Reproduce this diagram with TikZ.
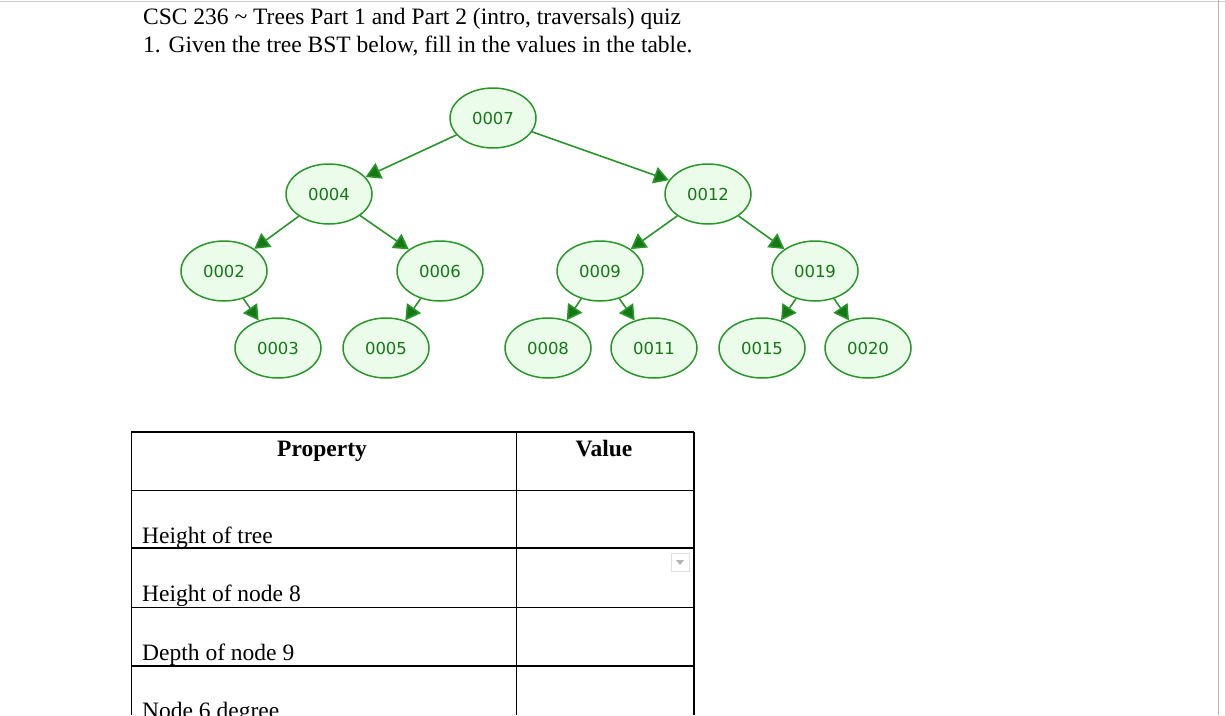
\documentclass[tikz,border=0pt]{standalone}
\usepackage{fontspec}
\setmainfont{Liberation Serif}
\newfontfamily\nodefont{DejaVu Sans}
\usetikzlibrary{shapes.geometric,arrows.meta}
\definecolor{tgreen}{RGB}{40,150,40}
\definecolor{tfill}{RGB}{235,252,235}
\definecolor{adark}{RGB}{20,120,20}
\begin{document}
\begin{tikzpicture}[x=1pt,y=-1pt,
  tn/.style={ellipse,draw=tgreen,fill=tfill,line width=1.5pt,minimum width=86pt,minimum height=60pt,inner sep=0pt,font=\nodefont\fontsize{16.5}{17}\selectfont,text=adark},
  ed/.style={draw=tgreen,line width=1.6pt,-{Triangle[length=15pt,width=17pt,fill=adark]}},
  tx/.style={font=\fontsize{23.5}{25}\selectfont,anchor=base west,inner sep=0pt},
  hd/.style={font=\bfseries\fontsize{23.5}{25}\selectfont,anchor=base,inner sep=0pt}]
\useasboundingbox (0,0) rectangle (1225,715);
\draw[gray!40] (0,1) -- (1225,1);
\draw[gray!60] (1218,0) -- (1218,715);
\node[tx] (t1) at (143,24) {CSC 236 \textasciitilde{} Trees Part 1 and Part 2 (intro, traversals) quiz};
\node[tx] (t2) at (143,52) {1. Given the tree BST below, fill in the values in the table.};
\node[tn] (n7) at (493,118) {0007};
\node[tn] (n4) at (329,194) {0004};
\node[tn] (n12) at (708,194) {0012};
\node[tn] (n2) at (224,271) {0002};
\node[tn] (n6) at (440,271) {0006};
\node[tn] (n9) at (600,271) {0009};
\node[tn] (n19) at (815,271) {0019};
\node[tn] (n3) at (278,348) {0003};
\node[tn] (n5) at (386,348) {0005};
\node[tn] (n8) at (548,348) {0008};
\node[tn] (n11) at (654,348) {0011};
\node[tn] (n15) at (762,348) {0015};
\node[tn] (n20) at (868,348) {0020};
\foreach \a/\b in {n7/n4,n7/n12,n4/n2,n4/n6,n12/n9,n12/n19,n2/n3,n6/n5,n9/n8,n9/n11,n19/n15,n19/n20}
  \draw[ed] (\a) -- (\b);
% table
\draw[line width=1.4pt] (131,432) -- (694,432);
\draw[line width=1pt] (131,490) -- (694,490);
\draw[line width=1.4pt] (131,548) -- (694,548);
\draw[line width=1pt] (131,607) -- (694,607);
\draw[line width=1.4pt] (131,666) -- (694,666);
\draw[line width=1pt] (131,432) -- (131,715);
\draw[line width=1pt] (516,432) -- (516,715);
\draw[line width=1.4pt] (694,432) -- (694,715);
\node[hd] (h1) at (322,456) {Property};
\node[hd] (h2) at (604,456) {Value};
\node[tx] (r1) at (142,543) {Height of tree};
\node[tx] (r2) at (142,601) {Height of node 8};
\node[tx] (r3) at (142,660) {Depth of node 9};
\node[tx] (r4) at (142,718) {Node 6 degree};
\draw[gray!25,fill=white] (671,553) rectangle (689,571);
\fill[gray!60] (676,560) -- (684,560) -- (680,565) -- cycle;
\end{tikzpicture}
\end{document}
